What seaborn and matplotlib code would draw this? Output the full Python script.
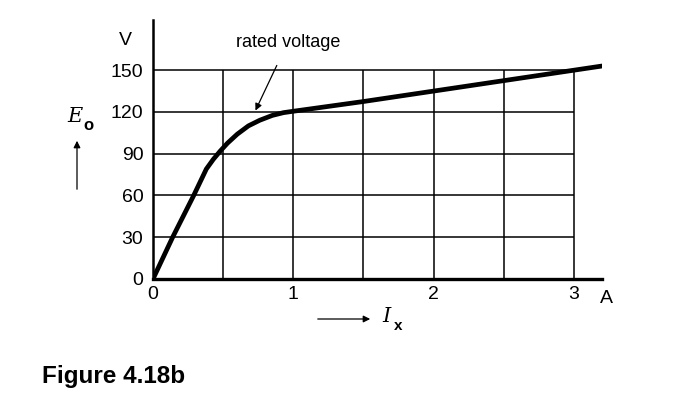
import matplotlib
matplotlib.use("Agg")
import matplotlib.pyplot as plt
import seaborn as sns
import pandas as pd

# Data
current_a = [0.0, 0.14, 0.29, 0.38, 0.43, 0.48, 0.53, 0.60, 0.68, 0.76, 0.85, 0.93, 1.0, 1.5, 2.0, 2.5, 3.0, 3.2]
voltage_v = [0, 30, 60, 79, 86, 92, 97.5, 104, 110, 114, 117.5, 119.5, 120.5, 127.5, 135, 142.5, 150, 153]
x_ticks = [0, 1, 2, 3]
y_ticks = [0, 30, 60, 90, 120, 150]
x_grid = [0.5, 1.0, 1.5, 2.0, 2.5, 3.0]
y_grid = [30, 60, 90, 120, 150]

sns.set_style("white")
plt.rcParams['font.family'] = ['Liberation Sans', 'DejaVu Sans']
plt.rcParams['text.color'] = 'black'
plt.rcParams['xtick.color'] = 'black'
plt.rcParams['ytick.color'] = 'black'

fig = plt.figure(figsize=(7, 3.94), dpi=100)
ax = fig.add_axes([0.2186, 0.292, 0.6414, 0.657])

ax.hlines(y_grid, 0, 3.0, color='black', lw=1.1, zorder=1)
ax.vlines(x_grid, 0, 150, color='black', lw=1.1, zorder=1)

df = pd.DataFrame({"I": current_a, "E": voltage_v})
sns.lineplot(data=df, x="I", y="E", ax=ax, color='black', lw=3.4, zorder=3, sort=False)

ax.set_xlim(0, 3.2)
ax.set_ylim(0, 186)
for s in ['top', 'right']:
    ax.spines[s].set_visible(False)
ax.spines['left'].set_linewidth(1.8)
ax.spines['bottom'].set_linewidth(2.4)
ax.spines['left'].set_color('black')
ax.spines['bottom'].set_color('black')
ax.set_xticks(x_ticks)
ax.set_yticks(y_ticks)
ax.set_xticklabels([str(t) for t in x_ticks], fontsize=14)
ax.set_yticklabels([str(t) for t in y_ticks], fontsize=14)
ax.tick_params(length=0, pad=7)
ax.tick_params(axis='x', pad=5)
ax.set_xlabel("")
ax.set_ylabel("")

# unit labels
ax.text(-0.2, 171, "V", fontsize=14, ha='center', va='center')
ax.text(3.23, -14, "A", fontsize=14, ha='center', va='center')

# rated voltage annotation
ax.annotate("rated voltage", xy=(0.73, 121), xytext=(0.96, 170),
            fontsize=13, ha='center', va='center',
            arrowprops=dict(arrowstyle='-|>', color='black', lw=0.9,
                            shrinkA=9, shrinkB=0, mutation_scale=10))

# E_o label with arrow
fig.text(75/700, 1 - 117/394, "E", fontsize=15, ha='center', va='center', style='italic',
         family='DejaVu Serif')
fig.text(88/700, 1 - 125/394, "o", fontsize=12, ha='center', va='center', fontweight='bold')
fig.add_artist(matplotlib.patches.FancyArrowPatch((77/700, 1 - 192/394), (77/700, 1 - 138/394),
               transform=fig.transFigure, arrowstyle='-|>', color='black', lw=0.9, mutation_scale=10))

# I_x label with arrow
fig.add_artist(matplotlib.patches.FancyArrowPatch((315/700, 1 - 319/394), (373/700, 1 - 319/394),
               transform=fig.transFigure, arrowstyle='-|>', color='black', lw=0.9, mutation_scale=10))
fig.text(386/700, 1 - 317/394, "I", fontsize=15, ha='center', va='center', style='italic',
         family='DejaVu Serif')
fig.text(398/700, 1 - 326/394, "x", fontsize=11, ha='center', va='center', fontweight='bold')

fig.text(42/700, 1 - 377/394, "Figure 4.18b", fontsize=17.5, fontweight='bold', ha='left', va='center')

fig.savefig("out.png", dpi=100)
